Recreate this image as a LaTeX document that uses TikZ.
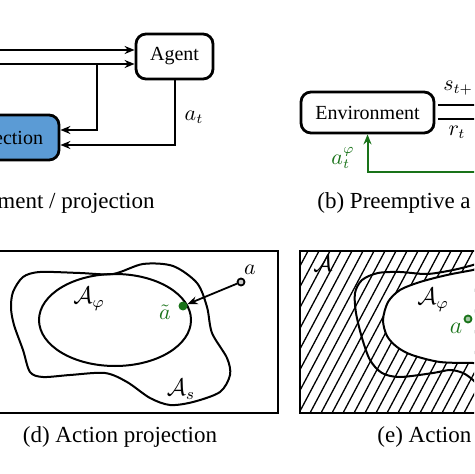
\documentclass[tikz,border=0pt]{standalone}
\usepackage{fontspec}
\setmainfont{Liberation Serif}
\usetikzlibrary{arrows.meta}
\definecolor{projblue}{RGB}{91,155,213}
\definecolor{actgreen}{RGB}{25,115,25}
\begin{document}
\begin{tikzpicture}[x=0.5pt,y=-0.5pt,
  boxnode/.style={draw, line width=1.4pt, rounded corners=5pt, inner xsep=6pt, font=\fontsize{10}{12}\selectfont},
  conn/.style={line width=1pt, -{Stealth[length=5pt,width=4pt]}},
  plainline/.style={line width=1pt},
  blob/.style={line width=1pt},
  frame/.style={line width=1pt},
  hatch/.style={line width=0.65pt},
  lbl/.style={font=\fontsize{10.5}{12}\selectfont, inner sep=0pt},
  captext/.style={font=\fontsize{11.5}{14}\selectfont, inner sep=0pt}]
\useasboundingbox (0,0) rectangle (474,474);
\clip (0,0) rectangle (474,474);
\fill[white] (0,0) rectangle (474,474);

% ---------- (a) top left ----------
\node[boxnode, minimum width=38.5pt, minimum height=22.5pt] (agent) at (174.5,56.5) {Agent};
\node[boxnode, fill=projblue, minimum height=22.5pt, text width=43.5pt, align=right, inner xsep=8pt] (proj) at (-0.5,137.5) {ection};
\coordinate (inA) at (-5,50);
\coordinate (inB) at (-5,64);
\coordinate (br) at (97,64);
\coordinate (pA) at (0,130);
\coordinate (pB) at (0,145);
\draw[conn] (inA) -- (inA -| agent.west);
\draw[conn] (inB) -- (inB -| agent.west);
\draw[conn] (br) |- (pA -| proj.east);
\draw[conn] (agent.south) |- (pB -| proj.east);
\node[lbl] (at) at (194,117) {$a_t$};
\node[captext, anchor=east] (capa) at (155,203) {ment / projection};

% ---------- (b) top right ----------
\node[boxnode, minimum width=66.5pt, minimum height=20.5pt] (env) at (367.5,112.5) {Environment};
\coordinate (sR) at (480,105);
\coordinate (rR) at (480,119);
\coordinate (gR) at (480,172);
\draw[plainline, shorten <=1.2pt] (sR -| env.east) -- (sR);
\draw[plainline, shorten <=1.2pt] (rR -| env.east) -- (rR);
\node[lbl, anchor=west] (st) at (443,88) {$s_{t+}$};
\node[lbl] (rt) at (457,132) {$r_t$};
\draw[conn, actgreen] (gR) -| (env.south);
\node[lbl, text=actgreen] (atphi) at (343,158) {$a_t^{\varphi}$};
\node[captext, anchor=west] (capb) at (317,203) {(b) Preemptive a};

% ---------- (d) bottom left ----------
\draw[frame] (-10,251) rectangle (278,413);
\draw[blob] plot[smooth cycle] coordinates {(13,292) (23,277) (40,272) (80,273) (113,274) (143,264) (173,266) (197,283) (207,307) (212,333) (227,358) (230,375) (220,392) (193,402) (170,405) (150,398) (127,382) (105,373) (70,375) (43,377) (30,372) (23,350) (14,325) (11,308)};
\draw[blob] (115,320) ellipse [x radius=38pt, y radius=23pt];
\node[draw, circle, line width=0.9pt, inner sep=0pt, minimum size=3.5pt, fill=gray!40] (aP) at (241,282) {};
\node[circle, fill=actgreen, inner sep=0pt, minimum size=4.5pt] (aT) at (183,306) {};
\draw[line width=0.9pt, -{Stealth[length=5pt,width=4pt]}] (aP) -- (aT);
\node[lbl] (aLbl) at (250,270) {$a$};
\node[lbl, text=actgreen] (atLbl) at (165,312) {$\tilde{a}$};
\node[lbl, font=\fontsize{11.5}{13}\selectfont] (Aphi1) at (89,299) {$\mathcal{A}_{\varphi}$};
\node[lbl, font=\fontsize{11.5}{13}\selectfont] (As) at (181,389) {$\mathcal{A}_{s}$};
\node[captext] (capd) at (120,437) {(d) Action projection};

% ---------- (e) bottom right ----------
\begin{scope}
\clip (300,251) rectangle (490,413);
\foreach \x in {200,211,...,490} \draw[hatch] (\x,413) -- ({\x+86},251);
\end{scope}
\fill[white] plot[smooth] coordinates {(480,268) (473,270) (447,275) (420,282) (400,290) (388,302) (383,320) (387,336) (397,347) (412,355) (440,362) (473,363) (480,363)} -- (490,363) -- (490,268) -- cycle;
\draw[blob] plot[smooth] coordinates {(480,268) (473,270) (447,275) (420,282) (400,290) (388,302) (383,320) (387,336) (397,347) (412,355) (440,362) (473,363) (480,363)};
\draw[blob] plot[smooth] coordinates {(480,262) (473,265) (453,270) (427,274) (400,272) (378,273) (362,280) (355,293) (356,313) (362,338) (370,360) (382,373) (400,377) (433,373) (450,370) (463,373) (473,380) (480,388)};
\draw[frame] (300,251) rectangle (490,413);
\node[lbl, font=\fontsize{11.5}{13}\selectfont] (Acal) at (323,263) {$\mathcal{A}$};
\node[lbl, font=\fontsize{11.5}{13}\selectfont] (Aphi2) at (433,300) {$\mathcal{A}_{\varphi}$};
\node[lbl, text=actgreen, font=\fontsize{11.5}{13}\selectfont] (aStar) at (456,328) {$a$};
\node[draw=actgreen, circle, line width=0.9pt, inner sep=0pt, minimum size=3.5pt, fill=actgreen!40] (aDot) at (468,319) {};
\node[captext, anchor=west] (cape) at (377,437) {(e) Action};
\end{tikzpicture}
\end{document}
